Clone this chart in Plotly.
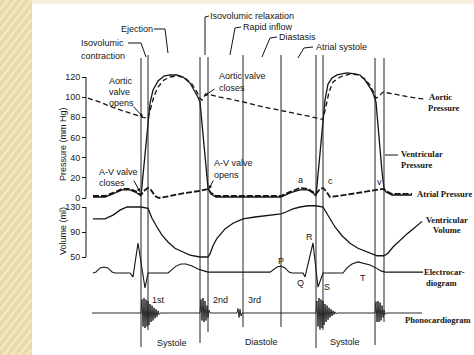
import plotly.graph_objects as go

W, H = 474, 355

# ---------------- data (time in ms, 0 = A-V valve closure of 1st beat) ----------------
event_ms = [0, 35, 295, 335, 510, 700, 875, 910, 1170, 1215]

vent_t = [-240, -180, -140, -95, -55, -20, 0, 10, 20, 35, 45, 60, 85, 115, 145, 180, 210, 245, 270, 285, 295,
          305, 315, 325, 335, 350, 375, 510, 700, 745, 795, 835, 860, 875, 885, 895, 910, 920, 935, 955, 980,
          1030, 1070, 1095, 1120, 1135, 1150, 1160, 1175, 1185, 1195, 1205, 1215, 1225, 1255, 1355]
vent_p = [1, 1, 4, 8, 8, 5, 2, 23, 48, 79, 94, 107, 116, 121, 122, 122, 120, 114, 106, 100, 95,
          72, 48, 26, 10, 4, 1, 1, 1, 5, 8, 8, 5, 2, 23, 48, 79, 97, 113, 119, 122,
          124, 123, 122, 117, 113, 108, 104, 95, 72, 48, 26, 10, 6, 3, 3]

atr_t = [-240, -180, -140, -95, -55, -20, 0, 20, 35, 50, 70, 90, 145, 220, 295, 335, 350, 375, 510, 700,
         745, 795, 835, 860, 875, 895, 910, 925, 945, 1020, 1120, 1210, 1225, 1255, 1355]
atr_p = [2, 2, 5, 9, 9, 6, 3, 8, 10, 8, 2, 0, 2, 5, 7, 9, 5, 2, 2, 2,
         6, 10, 9, 6, 4, 9, 10, 7, 1, 3, 6, 9, 7, 4, 4]

aor_t = [-265, -205, -130, -55, 10, 35, 50, 65, 85, 115, 145, 185, 220, 255, 280, 295, 305, 320, 335, 395,
         495, 595, 745, 875, 910, 925, 940, 960, 995, 1045, 1085, 1120, 1145, 1165, 1175, 1190, 1210, 1270,
         1345, 1420]
aor_p = [99, 95, 89, 84, 80, 79, 89, 101, 110, 117, 120, 121, 119, 113, 105, 99, 97, 102, 103, 100,
         96, 91, 85, 79, 78, 91, 105, 115, 120, 123, 122, 118, 112, 104, 99, 101, 105, 103,
         100, 98]

vol_t = [-240, -180, -140, -105, -70, -30, 0, 35, 55, 80, 105, 135, 170, 210, 245, 295, 335, 345, 360, 380,
         420, 460, 510, 570, 630, 700, 725, 760, 795, 835, 875, 910, 925, 945, 970, 1005, 1045, 1085, 1130,
         1180, 1215, 1235, 1260, 1295, 1330, 1365, 1395, 1405]
vol_ml = [111, 111, 117, 125, 130, 130, 130, 128, 112, 98, 85, 74, 64, 58, 53, 50, 50, 55, 68, 80,
          95, 104, 111, 114, 116, 119, 122, 127, 130, 132, 132, 130, 122, 111, 98, 84, 72, 64, 58,
          52, 52, 56, 66, 77, 87, 96, 104, 107]

ecg_t = [-240, -225, -205, -185, -165, -145, -130, -55, -40, -15, 20, 35, 135, 155, 175, 200, 225, 255, 285,
         315, 335, 645, 660, 680, 700, 720, 740, 755, 810, 820, 860, 885, 910, 1010, 1030, 1055, 1085,
         1115, 1145, 1175, 1200, 1220, 1410]
ecg_mv = [0, 0.03, 0.17, 0.2, 0.17, 0.03, 0, 0, -0.13, 1.0, -0.5, 0, 0, 0.13, 0.23, 0.3, 0.3, 0.23, 0.13,
          0.07, 0.03, 0.03, 0.1, 0.2, 0.23, 0.17, 0.03, 0, 0, -0.13, 1.0, -0.47, 0, 0, 0.17, 0.3, 0.37,
          0.33, 0.27, 0.17, 0.07, 0.03, 0.03]

phono_t = [-245,
           0, 5, 10, 15, 20, 25, 30, 35, 40, 45, 50, 55, 60, 65, 70, 75, 80, 85, 90, 95,
           295, 300, 305, 310, 315, 320, 325, 330, 335, 340, 345,
           480, 485, 490, 495, 500, 505,
           875, 880, 885, 890, 895, 900, 905, 910, 915, 920, 925, 930, 935, 940, 945, 950, 955, 960, 965, 970,
           975, 980,
           1170, 1175, 1180, 1185, 1190, 1195, 1200, 1205, 1210, 1215, 1220, 1225,
           1405]
phono_a = [0,
           0, 0.9, -0.9, 1.0, -1.0, 0.9, -0.9, 0.8, -0.8, 0.6, -0.6, 0.5, -0.5, 0.35, -0.35, 0.25, -0.25, 0.15,
           -0.1, 0,
           0, 0.9, -0.5, 1.0, -0.6, 0.8, -0.5, 0.5, -0.3, 0.2, 0,
           0, 0.3, -0.3, 0.25, -0.2, 0,
           0, 0.8, -0.9, 1.0, -1.1, 0.9, -1.0, 0.8, -0.8, 0.6, -0.6, 0.5, -0.45, 0.35, -0.3, 0.25, -0.2, 0.15,
           -0.1, 0.08, -0.05, 0,
           0, 0.75, -0.6, 0.8, -0.6, 0.7, -0.5, 0.5, -0.3, 0.2, -0.1, 0,
           0]

pressure_ticks = [0, 20, 40, 60, 80, 100, 120]
volume_ticks = [50, 90, 130]

# ---------------- layout helpers (pixel -> paper) ----------------
def PX(x):
    return x / W


def PY(y):
    return 1 - y / H


SANS = "Liberation Sans, Arial, sans-serif"
SERIF = "Liberation Serif, Times New Roman, serif"
INK = "#141414"

fig = go.Figure()
fig.add_trace(go.Scatter(x=aor_t, y=aor_p, yaxis="y", mode="lines",
                         line=dict(color=INK, width=1.3, dash="5px,3px"), name="Aortic Pressure"))
fig.add_trace(go.Scatter(x=vent_t, y=vent_p, yaxis="y", mode="lines",
                         line=dict(color=INK, width=1.3), name="Ventricular Pressure"))
fig.add_trace(go.Scatter(x=atr_t, y=atr_p, yaxis="y", mode="lines",
                         line=dict(color=INK, width=1.8, dash="6px,2px"), name="Atrial Pressure"))
fig.add_trace(go.Scatter(x=vol_t, y=vol_ml, yaxis="y2", mode="lines",
                         line=dict(color=INK, width=1.3), name="Ventricular Volume"))
fig.add_trace(go.Scatter(x=ecg_t, y=ecg_mv, yaxis="y3", mode="lines",
                         line=dict(color=INK, width=1.1), name="ECG"))
fig.add_trace(go.Scatter(x=phono_t, y=phono_a, yaxis="y4", mode="lines",
                         line=dict(color=INK, width=0.9), name="Phonocardiogram"))

# scale of each band on the page
kp = 121 / 120        # px per mmHg  (0 mmHg at px 198)
kv = 50 / 80          # px per ml    (50 ml at px 257)
ke = 30               # px per mV    (baseline at px 273)
kph = 15              # px per unit  (baseline at px 313)
x_ms_per_px = 5
x_zero_px = 141

p_top, p_bot = 62, 206
v_top, v_bot = 198, 264
e_top, e_bot = 232, 296
f_top, f_bot = 290, 340

disp_axis = dict(anchor="free", position=PX(86), showline=False,
                 ticks="outside", ticklen=4, tickwidth=1, tickcolor=INK, showgrid=False, zeroline=False,
                 tickfont=dict(family=SANS, size=9, color="#222"), fixedrange=True)
hidden = dict(visible=False, anchor="x", showgrid=False, zeroline=False, fixedrange=True)

fig.update_layout(
    width=W, height=H, margin=dict(l=0, r=0, t=0, b=0),
    paper_bgcolor="white", plot_bgcolor="rgba(0,0,0,0)", showlegend=False,
    xaxis=dict(visible=False, domain=[0, 1], fixedrange=True, anchor="y3",
               range=[(0 - x_zero_px) * x_ms_per_px, (W - x_zero_px) * x_ms_per_px]),
    yaxis=dict(disp_axis, domain=[PY(p_bot), PY(p_top)],
               range=[-(p_bot - 198) / kp, (198 - p_top) / kp], tickvals=pressure_ticks),
    yaxis2=dict(disp_axis, domain=[PY(v_bot), PY(v_top)],
                range=[50 - (v_bot - 257) / kv, 50 + (257 - v_top) / kv], tickvals=volume_ticks),
    yaxis3=dict(hidden, domain=[PY(e_bot), PY(e_top)],
                range=[-(e_bot - 273) / ke, (273 - e_top) / ke]),
    yaxis4=dict(hidden, domain=[PY(f_bot), PY(f_top)],
                range=[-(f_bot - 313) / kph, (313 - f_top) / kph]),
)

shapes = []
# slide background: beige strip on the left, cream band on top
shapes.append(dict(type="rect", xref="paper", yref="paper", x0=0, x1=PX(32), y0=0, y1=1,
                   fillcolor="#eadaa9", line=dict(width=0), layer="below"))
for k in range(-4, 40):
    y0 = k * 10
    shapes.append(dict(type="line", xref="paper", yref="paper", x0=0, x1=PX(31), y0=PY(y0 + 40), y1=PY(y0),
                       line=dict(color="#f3e8c8", width=2.5), layer="below"))
shapes.append(dict(type="rect", xref="paper", yref="paper", x0=PX(32), x1=1, y0=PY(4), y1=1,
                   fillcolor="#f7f0dc", line=dict(width=0), layer="below"))

# axis spines, spanning just the labelled ranges
shapes.append(dict(type="line", xref="paper", yref="y", x0=PX(86), x1=PX(86),
                   y0=pressure_ticks[0], y1=pressure_ticks[-1], line=dict(color=INK, width=1)))
shapes.append(dict(type="line", xref="paper", yref="y2", x0=PX(86), x1=PX(86),
                   y0=volume_ticks[0], y1=volume_ticks[-1], line=dict(color=INK, width=1)))

# event lines
event_top = [58, 55, 57, 57, 55, 55, 55, 55, 58, 58]
event_bot = [347, 330, 343, 332, 327, 327, 348, 330, 345, 322]
for t, a, b in zip(event_ms, event_top, event_bot):
    shapes.append(dict(type="line", xref="x", yref="paper", x0=t, x1=t, y0=PY(a), y1=PY(b),
                       line=dict(color="#222", width=1)))


def path(pts):
    return "M " + " L ".join(f"{PX(x):.5f},{PY(y):.5f}" for x, y in pts)


leaders = [
    [(128, 43), (141, 43), (146, 57)],
    [(154, 29), (165, 29), (168, 53)],
    [(209, 16), (205, 17), (205, 55)],
    [(241, 27), (235, 28), (230, 55)],
    [(277, 37), (270, 38), (262, 57)],
    [(313, 47), (304, 48), (298, 58)],
    [(385, 155), (398, 155)],
]
for pts in leaders:
    shapes.append(dict(type="path", xref="paper", yref="paper", path=path(pts),
                       line=dict(color=INK, width=1)))
fig.update_layout(shapes=shapes)

ann = []


def txt(s, x, y, size=9, xanchor="left", family=SANS, angle=0):
    ann.append(dict(text=s, x=PX(x), y=PY(y), xref="paper", yref="paper", showarrow=False,
                    xanchor=xanchor, yanchor="middle", textangle=angle, borderpad=0,
                    font=dict(family=family, size=size, color=INK)))


def arrow(x, y, fx, fy):
    ann.append(dict(text="", x=PX(x), y=PY(y), xref="paper", yref="paper", showarrow=True,
                    ax=fx - x, ay=fy - y, arrowhead=2, arrowsize=0.7, arrowwidth=1, arrowcolor=INK))


txt("Pressure (mm Hg)", 57, 144, angle=-90)
txt("Volume (ml)", 57, 231, angle=-90)

txt("Isovolumic", 80, 43)
txt("contraction", 80, 56)
txt("Ejection", 120, 29)
txt("Isovolumic relaxation", 209, 16)
txt("Rapid inflow", 242, 27)
txt("Diastasis", 278, 37)
txt("Atrial systole", 315, 47)

txt("Aortic", 108, 81)
txt("valve", 108, 92)
txt("opens", 108, 103)
txt("Aortic valve", 218, 76)
txt("closes", 218, 88)
txt("A-V valve", 98, 172)
txt("closes", 98, 183)
txt("A-V valve", 213, 163)
txt("opens", 213, 175)

arrow(143, 117, 132, 105)
arrow(204, 96, 216, 88)
arrow(140, 192, 133, 179)
arrow(209, 189, 214, 179)

txt("a", 300, 180, xanchor="center")
txt("c", 330, 181, xanchor="center")
txt("v", 379, 182, xanchor="center")
txt("P", 281, 261, xanchor="center")
txt("Q", 300, 283, xanchor="center")
txt("R", 309, 237, xanchor="center")
txt("S", 327, 287, xanchor="center")
txt("T", 363, 278, xanchor="center")
txt("1st", 151, 300)
txt("2nd", 212, 300)
txt("3rd", 247, 300)
txt("Systole", 172, 343, xanchor="center")
txt("Diastole", 261, 342, xanchor="center")
txt("Systole", 345, 342, xanchor="center")

B = 8.5
txt("<b>Aortic</b>", 428, 97, size=B, family=SERIF)
txt("<b>Pressure</b>", 427, 108, size=B, family=SERIF)
txt("<b>Ventricular</b>", 400, 154, size=B, family=SERIF)
txt("<b>Pressure</b>", 400, 165, size=B, family=SERIF)
txt("<b>Atrial Pressure</b>", 416, 194, size=B, family=SERIF)
txt("<b>Ventricular</b>", 425, 220, size=B, family=SERIF)
txt("<b>Volume</b>", 432, 230, size=B, family=SERIF)
txt("<b>Electrocar-</b>", 423, 272, size=B, family=SERIF)
txt("<b>diogram</b>", 425, 283, size=B, family=SERIF)
txt("<b>Phonocardiogram</b>", 404, 320, size=B, family=SERIF)

fig.update_layout(annotations=ann)

fig.write_html("out.html")
